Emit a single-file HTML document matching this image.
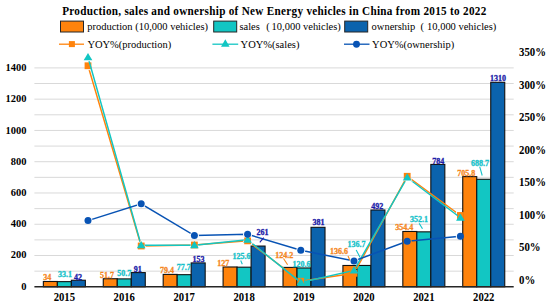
<!DOCTYPE html>
<html><head><meta charset="utf-8"><style>
html,body{margin:0;padding:0;background:#fff;width:550px;height:308px;overflow:hidden}
svg{display:block}
text{font-family:"Liberation Serif",serif}
.b{font-weight:bold}
</style></head><body>
<svg width="550" height="308" viewBox="0 0 550 308">
<rect width="550" height="308" fill="#fff"/>

<text transform="translate(274.35 14.75) scale(1 1.04)" text-anchor="middle" class="b" font-size="11.2" letter-spacing="0.29">Production, sales and ownership of New Energy vehicles in China from 2015 to 2022</text>
<rect x="60.5" y="21.1" width="23" height="10.9" fill="#FF830C" stroke="#262626" stroke-width="1"/>
<rect x="213.7" y="21.1" width="23" height="10.9" fill="#12C6C3" stroke="#262626" stroke-width="1"/>
<rect x="344.7" y="21.1" width="23" height="10.9" fill="#0B63AD" stroke="#262626" stroke-width="1"/>
<text transform="translate(87.2 30.1) scale(1 1.08)" font-size="10.5">production (10,000 vehicles)</text>
<text transform="translate(239.4 30.1) scale(1 1.08)" font-size="10.5">sales<tspan dx="6.5">(</tspan><tspan dx="1.8">10,000 vehicles)</tspan></text>
<text transform="translate(371.6 30.1) scale(1 1.08)" font-size="10.5">ownership<tspan dx="5.2">(</tspan><tspan dx="3.1">10,000 vehicles)</tspan></text>
<line x1="59" y1="44.2" x2="84" y2="44.2" stroke="#FF830C" stroke-width="1.3"/>
<rect x="68.9" y="41.1" width="6" height="6" fill="#FF830C"/>
<text transform="translate(87.4 47.6) scale(1 1.08)" font-size="10.5">YOY%(production)</text>
<line x1="212.4" y1="44.2" x2="238.2" y2="44.2" stroke="#12C6C3" stroke-width="1.3"/>
<polygon points="225.3,39.3 229.6,46.8 221,46.8" fill="#12C6C3"/>
<text transform="translate(240.6 47.6) scale(1 1.08)" font-size="10.5">YOY%(sales)</text>
<line x1="344" y1="44.2" x2="369.5" y2="44.2" stroke="#0853B4" stroke-width="1.3"/>
<circle cx="356.5" cy="44.2" r="3.45" fill="#0853B4"/>
<text transform="translate(372.1 47.6) scale(1 1.08)" font-size="10.5">YOY%(ownership)</text>
<line x1="34.4" y1="271.16" x2="513.7" y2="271.16" stroke="#D9D9D9" stroke-width="1"/>
<line x1="34.4" y1="255.53" x2="513.7" y2="255.53" stroke="#D9D9D9" stroke-width="1"/>
<line x1="34.4" y1="239.89" x2="513.7" y2="239.89" stroke="#D9D9D9" stroke-width="1"/>
<line x1="34.4" y1="224.26" x2="513.7" y2="224.26" stroke="#D9D9D9" stroke-width="1"/>
<line x1="34.4" y1="208.62" x2="513.7" y2="208.62" stroke="#D9D9D9" stroke-width="1"/>
<line x1="34.4" y1="192.98" x2="513.7" y2="192.98" stroke="#D9D9D9" stroke-width="1"/>
<line x1="34.4" y1="177.35" x2="513.7" y2="177.35" stroke="#D9D9D9" stroke-width="1"/>
<line x1="34.4" y1="161.71" x2="513.7" y2="161.71" stroke="#D9D9D9" stroke-width="1"/>
<line x1="34.4" y1="146.08" x2="513.7" y2="146.08" stroke="#D9D9D9" stroke-width="1"/>
<line x1="34.4" y1="130.44" x2="513.7" y2="130.44" stroke="#D9D9D9" stroke-width="1"/>
<line x1="34.4" y1="114.80" x2="513.7" y2="114.80" stroke="#D9D9D9" stroke-width="1"/>
<line x1="34.4" y1="99.17" x2="513.7" y2="99.17" stroke="#D9D9D9" stroke-width="1"/>
<line x1="34.4" y1="83.53" x2="513.7" y2="83.53" stroke="#D9D9D9" stroke-width="1"/>
<line x1="34.4" y1="67.90" x2="513.7" y2="67.90" stroke="#D9D9D9" stroke-width="1"/>
<text transform="translate(26.5 289.70) scale(1 1.08)" text-anchor="end" class="b" font-size="10.5">0</text>
<text transform="translate(26.5 258.48) scale(1 1.08)" text-anchor="end" class="b" font-size="10.5">200</text>
<text transform="translate(26.5 227.26) scale(1 1.08)" text-anchor="end" class="b" font-size="10.5">400</text>
<text transform="translate(26.5 196.04) scale(1 1.08)" text-anchor="end" class="b" font-size="10.5">600</text>
<text transform="translate(26.5 164.82) scale(1 1.08)" text-anchor="end" class="b" font-size="10.5">800</text>
<text transform="translate(26.5 133.60) scale(1 1.08)" text-anchor="end" class="b" font-size="10.5">1000</text>
<text transform="translate(26.5 102.38) scale(1 1.08)" text-anchor="end" class="b" font-size="10.5">1200</text>
<text transform="translate(26.5 71.16) scale(1 1.08)" text-anchor="end" class="b" font-size="10.5">1400</text>
<text transform="translate(519 283.60) scale(1 1.08)" class="b" font-size="10.8">0%</text>
<text transform="translate(519 251.15) scale(1 1.08)" class="b" font-size="10.8">50%</text>
<text transform="translate(519 218.70) scale(1 1.08)" class="b" font-size="10.8">100%</text>
<text transform="translate(519 186.25) scale(1 1.08)" class="b" font-size="10.8">150%</text>
<text transform="translate(519 153.80) scale(1 1.08)" class="b" font-size="10.8">200%</text>
<text transform="translate(519 121.35) scale(1 1.08)" class="b" font-size="10.8">250%</text>
<text transform="translate(519 88.90) scale(1 1.08)" class="b" font-size="10.8">300%</text>
<text transform="translate(519 56.45) scale(1 1.08)" class="b" font-size="10.8">350%</text>
<rect x="43.36" y="281.49" width="14.0" height="5.31" fill="#FF830C" stroke="#111" stroke-width="1.1"/>
<rect x="57.36" y="281.63" width="14.0" height="5.17" fill="#12C6C3" stroke="#111" stroke-width="1.1"/>
<rect x="71.36" y="280.24" width="14.0" height="6.56" fill="#0B63AD" stroke="#111" stroke-width="1.1"/>
<rect x="103.27" y="278.73" width="14.0" height="8.07" fill="#FF830C" stroke="#111" stroke-width="1.1"/>
<rect x="117.27" y="278.89" width="14.0" height="7.91" fill="#12C6C3" stroke="#111" stroke-width="1.1"/>
<rect x="131.27" y="272.59" width="14.0" height="14.21" fill="#0B63AD" stroke="#111" stroke-width="1.1"/>
<rect x="163.18" y="274.41" width="14.0" height="12.39" fill="#FF830C" stroke="#111" stroke-width="1.1"/>
<rect x="177.18" y="274.67" width="14.0" height="12.13" fill="#12C6C3" stroke="#111" stroke-width="1.1"/>
<rect x="191.18" y="262.92" width="14.0" height="23.88" fill="#0B63AD" stroke="#111" stroke-width="1.1"/>
<rect x="223.09" y="266.98" width="14.0" height="19.82" fill="#FF830C" stroke="#111" stroke-width="1.1"/>
<rect x="237.09" y="267.19" width="14.0" height="19.61" fill="#12C6C3" stroke="#111" stroke-width="1.1"/>
<rect x="251.09" y="246.06" width="14.0" height="40.74" fill="#0B63AD" stroke="#111" stroke-width="1.1"/>
<rect x="283.01" y="267.41" width="14.0" height="19.39" fill="#FF830C" stroke="#111" stroke-width="1.1"/>
<rect x="297.01" y="267.97" width="14.0" height="18.83" fill="#12C6C3" stroke="#111" stroke-width="1.1"/>
<rect x="311.01" y="227.33" width="14.0" height="59.47" fill="#0B63AD" stroke="#111" stroke-width="1.1"/>
<rect x="342.92" y="265.48" width="14.0" height="21.32" fill="#FF830C" stroke="#111" stroke-width="1.1"/>
<rect x="356.92" y="265.46" width="14.0" height="21.34" fill="#12C6C3" stroke="#111" stroke-width="1.1"/>
<rect x="370.92" y="210.00" width="14.0" height="76.80" fill="#0B63AD" stroke="#111" stroke-width="1.1"/>
<rect x="402.83" y="231.48" width="14.0" height="55.32" fill="#FF830C" stroke="#111" stroke-width="1.1"/>
<rect x="416.83" y="231.84" width="14.0" height="54.96" fill="#12C6C3" stroke="#111" stroke-width="1.1"/>
<rect x="430.83" y="164.42" width="14.0" height="122.38" fill="#0B63AD" stroke="#111" stroke-width="1.1"/>
<rect x="462.74" y="176.62" width="14.0" height="110.18" fill="#FF830C" stroke="#111" stroke-width="1.1"/>
<rect x="476.74" y="179.29" width="14.0" height="107.51" fill="#12C6C3" stroke="#111" stroke-width="1.1"/>
<rect x="490.74" y="82.31" width="14.0" height="204.49" fill="#0B63AD" stroke="#111" stroke-width="1.1"/>
<line x1="34.4" y1="286.8" x2="513.7" y2="286.8" stroke="#262626" stroke-width="1.5"/>
<text transform="translate(64.36 300.7) scale(1 1.08)" text-anchor="middle" class="b" font-size="10.7">2015</text>
<text transform="translate(124.27 300.7) scale(1 1.08)" text-anchor="middle" class="b" font-size="10.7">2016</text>
<text transform="translate(184.18 300.7) scale(1 1.08)" text-anchor="middle" class="b" font-size="10.7">2017</text>
<text transform="translate(244.09 300.7) scale(1 1.08)" text-anchor="middle" class="b" font-size="10.7">2018</text>
<text transform="translate(304.01 300.7) scale(1 1.08)" text-anchor="middle" class="b" font-size="10.7">2019</text>
<text transform="translate(363.92 300.7) scale(1 1.08)" text-anchor="middle" class="b" font-size="10.7">2020</text>
<text transform="translate(423.83 300.7) scale(1 1.08)" text-anchor="middle" class="b" font-size="10.7">2021</text>
<text transform="translate(483.74 300.7) scale(1 1.08)" text-anchor="middle" class="b" font-size="10.7">2022</text>
<defs>
<mask id="mp" maskUnits="userSpaceOnUse" x="0" y="0" width="550" height="308"><rect width="550" height="308" fill="#fff"/>
<rect x="83.60" y="61.36" width="8.8" height="8.8" fill="#000"/>
<rect x="136.80" y="241.59" width="8.8" height="8.8" fill="#000"/>
<rect x="190.00" y="240.61" width="8.8" height="8.8" fill="#000"/>
<rect x="243.20" y="236.46" width="8.8" height="8.8" fill="#000"/>
<rect x="296.40" y="276.83" width="8.8" height="8.8" fill="#000"/>
<rect x="349.60" y="268.91" width="8.8" height="8.8" fill="#000"/>
<rect x="402.80" y="171.88" width="8.8" height="8.8" fill="#000"/>
<rect x="456.00" y="211.08" width="8.8" height="8.8" fill="#000"/>
</mask>
<mask id="ms" maskUnits="userSpaceOnUse" x="0" y="0" width="550" height="308"><rect width="550" height="308" fill="#fff"/>
<polygon points="88.00,51.09 93.95,61.19 82.05,61.19" fill="#000"/>
<polygon points="141.20,239.17 147.15,249.27 135.25,249.27" fill="#000"/>
<polygon points="194.40,239.11 200.35,249.21 188.45,249.21" fill="#000"/>
<polygon points="247.60,233.72 253.55,243.82 241.65,243.82" fill="#000"/>
<polygon points="300.80,276.30 306.75,286.40 294.85,286.40" fill="#000"/>
<polygon points="354.00,264.29 359.95,274.39 348.05,274.39" fill="#000"/>
<polygon points="407.20,171.42 413.15,181.52 401.25,181.52" fill="#000"/>
<polygon points="460.40,211.66 466.35,221.76 454.45,221.76" fill="#000"/>
</mask>
<mask id="mo" maskUnits="userSpaceOnUse" x="0" y="0" width="550" height="308"><rect width="550" height="308" fill="#fff"/>
<circle cx="88.00" cy="220.61" r="4.5" fill="#000"/>
<circle cx="141.20" cy="203.87" r="4.5" fill="#000"/>
<circle cx="194.40" cy="235.60" r="4.5" fill="#000"/>
<circle cx="247.60" cy="234.31" r="4.5" fill="#000"/>
<circle cx="300.80" cy="250.27" r="4.5" fill="#000"/>
<circle cx="354.00" cy="260.91" r="4.5" fill="#000"/>
<circle cx="407.20" cy="241.31" r="4.5" fill="#000"/>
<circle cx="460.40" cy="236.25" r="4.5" fill="#000"/>
</mask>
</defs>
<polyline points="88.00,65.76 141.20,245.99 194.40,245.01 247.60,240.86 300.80,281.23 354.00,273.31 407.20,176.28 460.40,215.48" fill="none" stroke="#FF830C" stroke-width="1.45" mask="url(#mp)"/>
<rect x="84.60" y="62.36" width="6.8" height="6.8" fill="#FF830C"/>
<rect x="137.80" y="242.59" width="6.8" height="6.8" fill="#FF830C"/>
<rect x="191.00" y="241.61" width="6.8" height="6.8" fill="#FF830C"/>
<rect x="244.20" y="237.46" width="6.8" height="6.8" fill="#FF830C"/>
<rect x="297.40" y="277.83" width="6.8" height="6.8" fill="#FF830C"/>
<rect x="350.60" y="269.91" width="6.8" height="6.8" fill="#FF830C"/>
<rect x="403.80" y="172.88" width="6.8" height="6.8" fill="#FF830C"/>
<rect x="457.00" y="212.08" width="6.8" height="6.8" fill="#FF830C"/>
<polyline points="88.00,57.19 141.20,245.27 194.40,245.21 247.60,239.82 300.80,282.40 354.00,270.39 407.20,177.52 460.40,217.76" fill="none" stroke="#12C6C3" stroke-width="1.45" mask="url(#ms)"/>
<polygon points="88.00,52.89 92.35,60.19 83.65,60.19" fill="#12C6C3"/>
<polygon points="141.20,240.97 145.55,248.27 136.85,248.27" fill="#12C6C3"/>
<polygon points="194.40,240.91 198.75,248.21 190.05,248.21" fill="#12C6C3"/>
<polygon points="247.60,235.52 251.95,242.82 243.25,242.82" fill="#12C6C3"/>
<polygon points="300.80,278.10 305.15,285.40 296.45,285.40" fill="#12C6C3"/>
<polygon points="354.00,266.09 358.35,273.39 349.65,273.39" fill="#12C6C3"/>
<polygon points="407.20,173.22 411.55,180.52 402.85,180.52" fill="#12C6C3"/>
<polygon points="460.40,213.46 464.75,220.76 456.05,220.76" fill="#12C6C3"/>
<polyline points="88.00,220.61 141.20,203.87 194.40,235.60 247.60,234.31 300.80,250.27 354.00,260.91 407.20,241.31 460.40,236.25" fill="none" stroke="#0853B4" stroke-width="1.5" mask="url(#mo)"/>
<circle cx="88.00" cy="220.61" r="3.5" fill="#0853B4"/>
<circle cx="141.20" cy="203.87" r="3.5" fill="#0853B4"/>
<circle cx="194.40" cy="235.60" r="3.5" fill="#0853B4"/>
<circle cx="247.60" cy="234.31" r="3.5" fill="#0853B4"/>
<circle cx="300.80" cy="250.27" r="3.5" fill="#0853B4"/>
<circle cx="354.00" cy="260.91" r="3.5" fill="#0853B4"/>
<circle cx="407.20" cy="241.31" r="3.5" fill="#0853B4"/>
<circle cx="460.40" cy="236.25" r="3.5" fill="#0853B4"/>
<text x="47.2" y="279.50" text-anchor="middle" class="b" font-size="8" fill="#F5871F" stroke="#F5871F" stroke-width="0.3">34</text>
<text x="65" y="277.10" text-anchor="middle" class="b" font-size="8" fill="#16C2CA" stroke="#16C2CA" stroke-width="0.3">33.1</text>
<text x="78" y="279.50" text-anchor="middle" class="b" font-size="8" fill="#1C1CA8" stroke="#1C1CA8" stroke-width="0.3">42</text>
<text x="106.9" y="278.40" text-anchor="middle" class="b" font-size="8" fill="#F5871F" stroke="#F5871F" stroke-width="0.3">51.7</text>
<text x="124.35" y="276.30" text-anchor="middle" class="b" font-size="8" fill="#16C2CA" stroke="#16C2CA" stroke-width="0.3">50.7</text>
<text x="137.85" y="271.80" text-anchor="middle" class="b" font-size="8" fill="#1C1CA8" stroke="#1C1CA8" stroke-width="0.3">91</text>
<text x="166.9" y="273.10" text-anchor="middle" class="b" font-size="8" fill="#F5871F" stroke="#F5871F" stroke-width="0.3">79.4</text>
<text x="183.75" y="270.40" text-anchor="middle" class="b" font-size="8" fill="#16C2CA" stroke="#16C2CA" stroke-width="0.3">77.7</text>
<text x="198.5" y="261.70" text-anchor="middle" class="b" font-size="8" fill="#1C1CA8" stroke="#1C1CA8" stroke-width="0.3">153</text>
<text x="223.3" y="265.80" text-anchor="middle" class="b" font-size="8" fill="#F5871F" stroke="#F5871F" stroke-width="0.3">127</text>
<text x="241.6" y="259.00" text-anchor="middle" class="b" font-size="8" fill="#16C2CA" stroke="#16C2CA" stroke-width="0.3">125.6</text>
<text x="262.6" y="234.50" text-anchor="middle" class="b" font-size="8" fill="#1C1CA8" stroke="#1C1CA8" stroke-width="0.3">261</text>
<text x="284.3" y="257.60" text-anchor="middle" class="b" font-size="8" fill="#F5871F" stroke="#F5871F" stroke-width="0.3">124.2</text>
<text x="301.5" y="267.10" text-anchor="middle" class="b" font-size="8" fill="#16C2CA" stroke="#16C2CA" stroke-width="0.3">120.6</text>
<text x="318.4" y="225.30" text-anchor="middle" class="b" font-size="8" fill="#1C1CA8" stroke="#1C1CA8" stroke-width="0.3">381</text>
<text x="339" y="254.40" text-anchor="middle" class="b" font-size="8" fill="#F5871F" stroke="#F5871F" stroke-width="0.3">136.6</text>
<text x="356.6" y="247.30" text-anchor="middle" class="b" font-size="8" fill="#16C2CA" stroke="#16C2CA" stroke-width="0.3">136.7</text>
<text x="377.35" y="208.90" text-anchor="middle" class="b" font-size="8" fill="#1C1CA8" stroke="#1C1CA8" stroke-width="0.3">492</text>
<text x="404.25" y="230.40" text-anchor="middle" class="b" font-size="8" fill="#F5871F" stroke="#F5871F" stroke-width="0.3">354.4</text>
<text x="419.1" y="221.90" text-anchor="middle" class="b" font-size="8" fill="#16C2CA" stroke="#16C2CA" stroke-width="0.3">352.1</text>
<text x="438.15" y="163.50" text-anchor="middle" class="b" font-size="8" fill="#1C1CA8" stroke="#1C1CA8" stroke-width="0.3">784</text>
<text x="466.2" y="175.50" text-anchor="middle" class="b" font-size="8" fill="#F5871F" stroke="#F5871F" stroke-width="0.3">705.8</text>
<text x="480" y="165.50" text-anchor="middle" class="b" font-size="8" fill="#16C2CA" stroke="#16C2CA" stroke-width="0.3">688.7</text>
<text x="498" y="81.30" text-anchor="middle" class="b" font-size="8" fill="#1C1CA8" stroke="#1C1CA8" stroke-width="0.3">1310</text>
<line x1="240.7" y1="260.5" x2="242.3" y2="264.3" stroke="#16C2CA" stroke-width="1.1"/>
<line x1="259.8" y1="242.3" x2="263.7" y2="237.7" stroke="#1C1CA8" stroke-width="1.1"/>
<line x1="283.5" y1="258.5" x2="287.6" y2="264.7" stroke="#F5871F" stroke-width="1.1"/>
<line x1="348" y1="256" x2="349.9" y2="260.3" stroke="#F5871F" stroke-width="1.1"/>
<line x1="356.2" y1="250.1" x2="360.1" y2="257.4" stroke="#16C2CA" stroke-width="1.1"/>
<line x1="419.2" y1="223.4" x2="422.5" y2="228.8" stroke="#16C2CA" stroke-width="1.1"/>
<line x1="479.7" y1="166.7" x2="482.2" y2="175.5" stroke="#16C2CA" stroke-width="1.1"/>
</svg></body></html>
